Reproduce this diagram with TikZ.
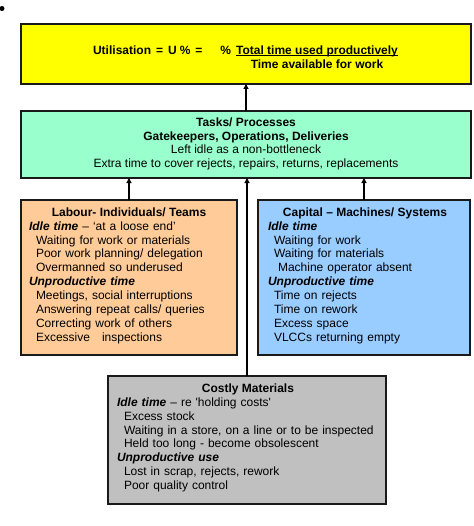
\documentclass[tikz,border=0pt]{standalone}
\usepackage{fontspec}
\setmainfont{Liberation Sans}
\usetikzlibrary{arrows.meta}
\newsavebox\ulbox
\newcommand\myul[1]{\sbox\ulbox{#1}\rlap{\rule[-1.4bp]{\wd\ulbox}{0.9bp}}\usebox\ulbox}
\definecolor{ylw}{HTML}{FFFF00}
\definecolor{grn}{HTML}{99FFCC}
\definecolor{org}{HTML}{FFCC99}
\definecolor{blu}{HTML}{99CCFF}
\definecolor{gry}{HTML}{C0C0C0}
\definecolor{boxline}{HTML}{1A1A1A}
\begin{document}
\begin{tikzpicture}[x=1bp,y=-1bp,
  box/.style={draw=boxline, line width=1.3bp, inner sep=0pt, outer sep=0pt},
  txt/.style={inner sep=0pt, outer sep=0pt, font=\fontsize{12bp}{13.85bp}\selectfont},
  body/.style={txt, align=left, anchor=north west},
  head/.style={inner sep=0pt, outer sep=0pt, font=\fontsize{12bp}{13.85bp}\selectfont\bfseries, anchor=north},
  arr/.style={-{Triangle[length=5bp,width=5bp]}, line width=1.1bp, draw=black}]
\useasboundingbox (0,0) rectangle (474,526);
\node[circle, fill=black, inner sep=0pt, minimum size=5bp] (dot) at (2,8.5) {};
% boxes
\node[box, fill=ylw, minimum width=450bp, minimum height=60bp] (util) at (246,54) {};
\node[box, fill=grn, minimum width=450bp, minimum height=67bp] (tasks) at (246,144.5) {};
\node[box, fill=org, minimum width=216bp, minimum height=155bp] (labour) at (129,277.5) {};
\node[box, fill=blu, minimum width=212bp, minimum height=155bp] (capital) at (364,277.5) {};
\node[box, fill=gry, minimum width=278bp, minimum height=128bp] (mat) at (247,440) {};
% texts
\node[head] (utext) at (245.5,44.6) {\strut Utilisation\hspace{5bp}=\hspace{5bp}U\hspace{3bp}\%\hspace{5bp}=\hspace{18bp}\%\hspace{5bp}\begin{tabular}[t]{@{}c@{}}\myul{Total time used productively}\\Time available for work\end{tabular}};
\node[txt, align=center, anchor=north] (ttext) at (246,116.6) {\strut\textbf{Tasks/ Processes}\\\textbf{Gatekeepers, Operations, Deliveries}\\Left idle as a non-bottleneck\\Extra time to cover rejects, repairs, returns, replacements};
\node[head] (lhead) at (129,206.6) {\strut Labour- Individuals/ Teams};
\node[body, text width=205bp] (ltext) at (29,220.6) {\strut\textbf{\textit{Idle time}} -- `at a loose end'\\
\hspace*{7bp}Waiting for work or materials\\
\hspace*{7bp}Poor work planning/ delegation\\
\hspace*{7bp}Overmanned so underused\\
\textbf{\textit{Unproductive time}}\\
\hspace*{7bp}Meetings, social interruptions\\
\hspace*{7bp}Answering repeat calls/ queries\\
\hspace*{7bp}Correcting work of others\\
\hspace*{7bp}Excessive\hspace{12bp}inspections};
\node[head] (chead) at (365,206.6) {\strut Capital -- Machines/ Systems};
\node[body, text width=198bp] (ctext) at (268,220.6) {\strut\textbf{\textit{Idle time}}\\
\hspace*{6bp}Waiting for work\\
\hspace*{6bp}Waiting for materials\\
\hspace*{10bp}Machine operator absent\\
\textbf{\textit{Unproductive time}}\\
\hspace*{6bp}Time on rejects\\
\hspace*{6bp}Time on rework\\
\hspace*{6bp}Excess space\\
\hspace*{6bp}VLCCs returning empty};
\node[head] (mhead) at (248,382.6) {\strut Costly Materials};
\node[body, text width=265bp] (mtext) at (117,396.6) {\strut\textbf{\textit{Idle time}} -- re \textquotesingle holding costs\textquotesingle\\
\hspace*{7bp}Excess stock\\
\hspace*{7bp}Waiting in a store, on a line or to be inspected\\
\hspace*{7bp}Held too long - become obsolescent\\
\textbf{\textit{Unproductive use}}\\
\hspace*{7bp}Lost in scrap, rejects, rework\\
\hspace*{7bp}Poor quality control};
% connectors
\draw[arr] (tasks.north) -- (util.south);
\draw[arr] (labour.north) -- (labour.north |- tasks.south);
\draw[arr] (capital.north) -- (capital.north |- tasks.south);
\draw[arr] (mat.north) -- (mat.north |- tasks.south);
\end{tikzpicture}
\end{document}
